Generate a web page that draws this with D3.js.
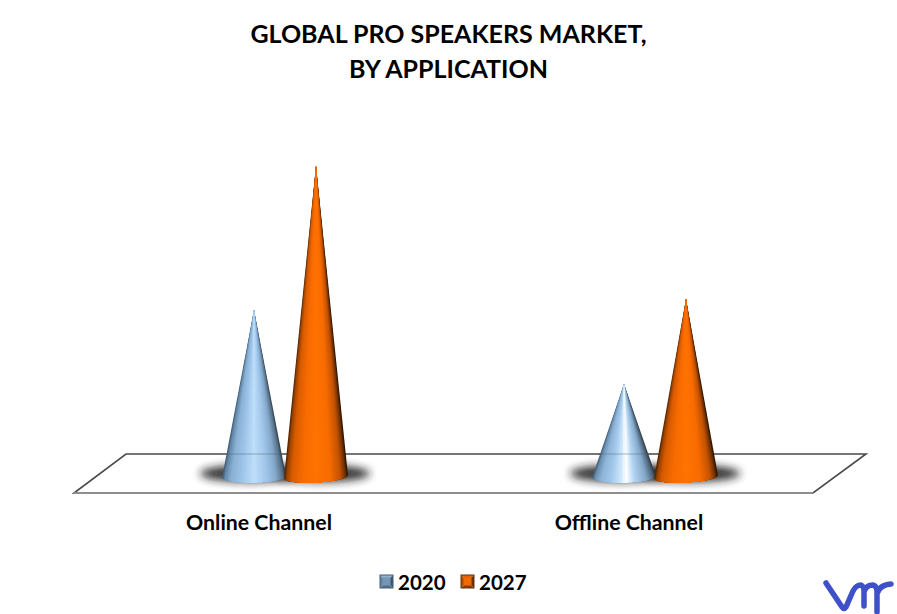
<!DOCTYPE html>
<html>
<head>
<meta charset="utf-8">
<script src="https://cdn.jsdelivr.net/npm/d3@7"></script>
<style>
  html, body { margin: 0; padding: 0; background: #fff; }
  text { font-family: Lato, "Open Sans", sans-serif; font-weight: 700; fill: #000; }
</style>
</head>
<body>
<div id="chart"></div>
<script>
const width = 897;
const height = 614;

const categories = ["Online Channel", "Offline Channel"];
const years = ["2020", "2027"];
const values2020 = [53.7, 29.9];
const values2027 = [100, 57.2];
const titleLines = ["GLOBAL PRO SPEAKERS MARKET,", "BY APPLICATION"];

const svg = d3.select("#chart").append("svg").attr("width", width).attr("height", height).style("display", "block");
const defs = svg.append("defs");

defs.append("filter").attr("id", "blur").attr("x", "-30%").attr("y", "-100%").attr("width", "160%").attr("height", "300%")
  .append("feGaussianBlur").attr("stdDeviation", 4.5);

// scales
const x0 = d3.scaleBand().domain(categories).range([100, 840]);
const x1 = d3.scaleBand().domain(years).range([-62, 62]);
const y = d3.scaleLinear().domain([0, 100]).range([477, 166]);

// shading across the cone, 0 = left edge, 1 = right edge
const shadeBlue0 = d3.scaleLinear()
  .domain([0, 0.04, 0.14, 0.3, 0.5, 0.7, 0.85, 0.96, 1])
  .range(["#3d5770", "#6287a8", "#8bb1d4", "#9cc4e8", "#bfdefa", "#9fc6ea", "#84a8ca", "#566f86", "#2f3d4a"]);
const shadeBlue1 = d3.scaleLinear()
  .domain([0, 0.04, 0.14, 0.3, 0.46, 0.54, 0.66, 0.85, 0.96, 1])
  .range(["#3d5770", "#6a8fb0", "#8fb5d8", "#a3c9ec", "#d2e9fc", "#ffffff", "#b4d6f4", "#84a8ca", "#4f6579", "#2b3742"]);
const shadeOrange = d3.scaleLinear()
  .domain([0, 0.04, 0.12, 0.3, 0.5, 0.72, 0.88, 0.96, 1])
  .range(["#4a2100", "#9a4200", "#d85c00", "#f86c00", "#ff7300", "#f86c00", "#c45300", "#6e3000", "#1e0e00"]);

const rows = categories.flatMap((c, i) => [
  { category: c, index: i, year: "2020", value: values2020[i] },
  { category: c, index: i, year: "2027", value: values2027[i] }
]);
const cx = (d) => x0(d.category) + x0.bandwidth() / 2 + x1(d.year) + x1.bandwidth() / 2;
const coneRx = x1.bandwidth() / 2 + 1;
const coneRy = 5.5;
const sliceCount = 60;

// floor
const floorPts = [[126, 454], [866, 454], [813, 493], [74, 493]];
svg.append("path")
  .attr("d", d3.line()(floorPts) + "Z")
  .attr("fill", "#fff")
  .attr("stroke", "#4a4a4a")
  .attr("stroke-width", 1.6);
svg.append("path")
  .attr("d", d3.line()(floorPts.slice(2)))
  .attr("stroke", "#8e8e8e")
  .attr("stroke-width", 2);

// shadows on the floor
svg.append("g")
  .selectAll("ellipse")
  .data(rows)
  .join("ellipse")
  .attr("cx", (d) => cx(d) + (d.year === "2020" ? -4 : 4))
  .attr("cy", 473.5)
  .attr("rx", 50)
  .attr("ry", 8.5)
  .attr("fill", "#1c1c1c")
  .attr("opacity", 0.9)
  .attr("filter", "url(#blur)");

// cones: nested slices from the outer edges inward, so the shading follows the sides to the tip
function basePoint(d, t) {
  const dx = coneRx * (2 * t - 1);
  const dy = coneRy * Math.sqrt(Math.max(0, 1 - (2 * t - 1) ** 2));
  const tilt = d.year === "2020" ? 0.02 : 0.05;
  return [cx(d) + dx, y(0) + dy - dx * tilt];
}
function shadeOf(d) {
  if (d.year === "2027") return shadeOrange;
  return d.index === 0 ? shadeBlue0 : shadeBlue1;
}
const slices = rows.flatMap((d) =>
  d3.range(sliceCount / 2).flatMap((k) => [
    { ...d, from: k, side: -1 },
    { ...d, from: k, side: 1 }
  ])
);
svg.append("g")
  .selectAll("path")
  .data(slices)
  .join("path")
  .attr("d", (d) => {
    const steps = d3.range(d.from, sliceCount / 2 + 2).map((k) => (d.side < 0 ? k : sliceCount - k) / sliceCount);
    return d3.line()([[cx(d), y(d.value)], ...steps.map((t) => basePoint(d, t))]) + "Z";
  })
  .attr("fill", (d) => {
    const t = (d.from + 0.5) / sliceCount;
    return shadeOf(d)(d.side < 0 ? t : 1 - t);
  });

// floor edge seen faintly through the blue cones
svg.append("g")
  .selectAll("line")
  .data(rows.filter((d) => d.year === "2020"))
  .join("line")
  .attr("x1", (d) => cx(d) - 27)
  .attr("x2", (d) => cx(d) + 27)
  .attr("y1", 454)
  .attr("y2", 454)
  .attr("stroke", "#4a5f73")
  .attr("stroke-opacity", 0.3)
  .attr("stroke-width", 1.5);

// category labels sit left of the cones, under the sheared floor
const axis = svg.append("g")
  .attr("transform", "translate(-26, 514)")
  .call(d3.axisBottom(x0).tickSize(0).tickPadding(0));
axis.select(".domain").remove();
axis.selectAll("text").attr("font-size", 21.3).attr("dy", "0.75em").style("font-family", "Lato, sans-serif").style("font-weight", 700);

// title
svg.append("g")
  .selectAll("text")
  .data(titleLines)
  .join("text")
  .attr("x", 448.5)
  .attr("y", (d, i) => 43 + i * 35)
  .attr("text-anchor", "middle")
  .attr("font-size", 25)
  .text((d) => d);

// legend
const legendX = d3.scalePoint().domain(years).range([380, 461]);
const legendColors = {
  "2020": ["#8fb0cf", "#6484a3", "#3f566c", "#52708d", "#7596b6"],
  "2027": ["#e06200", "#b54d00", "#6e2f00", "#8e3d00", "#f06a00"]
};
const legendSize = 13;
const legendTop = 575;
const legend = svg.append("g")
  .selectAll("g")
  .data(years)
  .join("g")
  .attr("transform", (d) => `translate(${legendX(d)},${legendTop})`);

legend.each(function (year) {
  const s = legendSize;
  const m = s / 2;
  const faces = [
    [[0, 0], [s, 0], [m, m]],
    [[0, 0], [0, s], [m, m]],
    [[s, 0], [s, s], [m, m]],
    [[0, s], [s, s], [m, m]]
  ];
  d3.select(this)
    .selectAll("path")
    .data(faces)
    .join("path")
    .attr("d", (f) => d3.line()(f) + "Z")
    .attr("fill", (f, i) => legendColors[year][i]);
  d3.select(this)
    .append("rect")
    .attr("x", 2.5)
    .attr("y", 2.5)
    .attr("width", s - 5)
    .attr("height", s - 5)
    .attr("fill", legendColors[year][4]);
  d3.select(this)
    .append("rect")
    .attr("width", s)
    .attr("height", s)
    .attr("fill", "none")
    .attr("stroke", year === "2020" ? "#4b5f72" : "#5e3210")
    .attr("stroke-width", 1);
});

legend.append("text")
  .attr("x", legendSize + 5)
  .attr("y", legendSize + 2)
  .attr("font-size", 20.5)
  .text((d) => d);

// logo
svg.append("path")
  .attr("d", "M826,583L842,607Q844,610 846,607L853,591Q856,585 861,585Q864,586 864,592V606M864,592Q866,585 873,585Q877,586 877,592V612M877,594Q879,585 891,584")
  .attr("fill", "none")
  .attr("stroke", "#3f51c8")
  .attr("stroke-width", 5.5)
  .attr("stroke-linecap", "round");
</script>
</body>
</html>
